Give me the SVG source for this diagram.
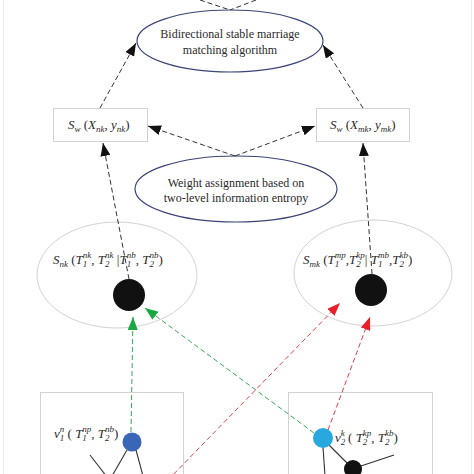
<svg xmlns="http://www.w3.org/2000/svg" width="474" height="474" viewBox="0 0 474 474">
<defs>
<style>
.t{font-family:"Liberation Serif",serif;font-size:12px;fill:#2a2a2a}
.m{font-family:"Liberation Serif",serif;font-size:13px;font-style:italic;fill:#2a2a2a}
.s{font-size:9px}
.u{font-style:normal}
.nav{fill:#fff;stroke:#3a4476;stroke-width:1.2}
.gr{fill:none;stroke:#d2d2d2;stroke-width:1}
.bx{fill:#fff;stroke:#d2d2d2;stroke-width:1}
.dk{stroke:#333;stroke-width:1;stroke-dasharray:5,3;fill:none}
.dg{stroke:#3aa65a;stroke-width:1;stroke-dasharray:5,3;fill:none}
.dr{stroke:#e0404a;stroke-width:1;stroke-dasharray:5,3;fill:none}
.ln{stroke:#333;stroke-width:1.1;fill:none}
</style>
<marker id="ak" markerUnits="userSpaceOnUse" markerWidth="14" markerHeight="10" refX="13" refY="5" orient="auto"><path d="M0,0 L13,5 L0,10 Z" fill="#111"/></marker>
<marker id="ag" markerUnits="userSpaceOnUse" markerWidth="14" markerHeight="10" refX="13" refY="5" orient="auto"><path d="M0,0 L13,5 L0,10 Z" fill="#1aa843"/></marker>
<marker id="ar" markerUnits="userSpaceOnUse" markerWidth="14" markerHeight="10" refX="13" refY="5" orient="auto"><path d="M0,0 L13,5 L0,10 Z" fill="#e8202a"/></marker>
</defs>
<rect width="474" height="474" fill="#fff"/>
<line x1="3.5" y1="0" x2="3.5" y2="474" stroke="#ececec"/>
<line x1="471.5" y1="0" x2="471.5" y2="474" stroke="#ececec"/>

<g id="algorithm">
<ellipse class="nav" cx="230" cy="41" rx="93" ry="31"/>
<text class="t" x="230" y="38" text-anchor="middle">Bidirectional stable marriage</text>
<text class="t" x="230" y="54" text-anchor="middle">matching algorithm</text>
</g>

<g id="sw-nk">
<rect class="bx" x="53.5" y="108.5" width="94" height="33"/>
<text class="m" x="68" y="129">S<tspan class="s" dy="3">w</tspan><tspan dy="-3" class="u"> (</tspan>X<tspan class="s" dy="3">nk</tspan><tspan dy="-3" class="u">, </tspan>y<tspan class="s" dy="3">nk</tspan><tspan dy="-3" class="u">)</tspan></text>
</g>

<g id="sw-mk">
<rect class="bx" x="316.5" y="108.5" width="93" height="33"/>
<text class="m" x="330" y="129">S<tspan class="s" dy="3">w</tspan><tspan dy="-3" class="u"> (</tspan>X<tspan class="s" dy="3">mk</tspan><tspan dy="-3" class="u">, </tspan>y<tspan class="s" dy="3">mk</tspan><tspan dy="-3" class="u">)</tspan></text>
</g>

<g id="weight">
<ellipse class="nav" cx="236" cy="189" rx="101" ry="33"/>
<text class="t" x="236" y="187" text-anchor="middle">Weight assignment based on</text>
<text class="t" x="236" y="202" text-anchor="middle">two-level information entropy</text>
</g>

<g id="s-nk">
<ellipse class="gr" cx="117" cy="275" rx="80" ry="53"/>
<text class="m" x="53" y="264">S<tspan class="s" dy="3">nk</tspan><tspan dy="-3" class="u"> (</tspan>T<tspan class="s" dy="3">1</tspan><tspan class="s" dx="-4.5" dy="-9">nk</tspan><tspan dy="6" class="u">, </tspan>T<tspan class="s" dy="3">2</tspan><tspan class="s" dx="-4.5" dy="-9">nk</tspan><tspan dy="6" class="u"> |</tspan>T<tspan class="s" dy="3">1</tspan><tspan class="s" dx="-4.5" dy="-9">nb</tspan><tspan dy="6" class="u">, </tspan>T<tspan class="s" dy="3">2</tspan><tspan class="s" dx="-4.5" dy="-9">nb</tspan><tspan dy="6" class="u">)</tspan></text>
<circle cx="129" cy="295" r="16" fill="#111"/>
</g>

<g id="s-mk">
<ellipse class="gr" cx="373" cy="273" rx="79" ry="53"/>
<text class="m" x="303" y="264">S<tspan class="s" dy="3">mk</tspan><tspan dy="-3" class="u"> (</tspan>T<tspan class="s" dy="3">1</tspan><tspan class="s" dx="-4.5" dy="-9">mp</tspan><tspan dy="6" class="u">,</tspan>T<tspan class="s" dy="3">2</tspan><tspan class="s" dx="-4.5" dy="-9">kp</tspan><tspan dy="6" class="u">| </tspan>T<tspan class="s" dy="3">1</tspan><tspan class="s" dx="-4.5" dy="-9">mb</tspan><tspan dy="6" class="u">,</tspan>T<tspan class="s" dy="3">2</tspan><tspan class="s" dx="-4.5" dy="-9">kb</tspan><tspan dy="6" class="u">)</tspan></text>
<circle cx="371" cy="290" r="16" fill="#111"/>
</g>

<g id="v1n">
<rect class="bx" x="40.5" y="392.5" width="143" height="100"/>
<line class="ln" x1="127" y1="450" x2="112" y2="476"/>
<line class="ln" x1="136" y1="450" x2="143" y2="476"/>
<line class="ln" x1="90" y1="455" x2="107" y2="477"/>
<circle cx="132" cy="442" r="9.5" fill="#3a66b8"/>
<text class="m" x="54" y="438">v<tspan class="s" dy="3">1</tspan><tspan class="s" dx="-4.5" dy="-9">n</tspan><tspan dy="6" class="u"> ( </tspan>T<tspan class="s" dy="3">1</tspan><tspan class="s" dx="-4.5" dy="-9">np</tspan><tspan dy="6" class="u">, </tspan>T<tspan class="s" dy="3">2</tspan><tspan class="s" dx="-4.5" dy="-9">nb</tspan><tspan dy="6" class="u">)</tspan></text>
</g>

<g id="v2k">
<rect class="bx" x="288.5" y="392.5" width="144" height="100"/>
<line class="ln" x1="323" y1="447" x2="325" y2="476"/>
<line class="ln" x1="329" y1="445" x2="347" y2="463"/>
<line class="ln" x1="361" y1="466" x2="394" y2="455"/>
<circle cx="353" cy="469" r="9" fill="#111"/>
<circle cx="323" cy="438" r="10" fill="#29a8e0"/>
<text class="m" x="335" y="442">v<tspan class="s" dy="3">2</tspan><tspan class="s" dx="-4.5" dy="-9">k</tspan><tspan dy="6" class="u"> ( </tspan>T<tspan class="s" dy="3">2</tspan><tspan class="s" dx="-4.5" dy="-9">kp</tspan><tspan dy="6" class="u">, </tspan>T<tspan class="s" dy="3">2</tspan><tspan class="s" dx="-4.5" dy="-9">kb</tspan><tspan dy="6" class="u">)</tspan></text>
</g>

<g id="connectors">
<line class="dk" x1="200" y1="0" x2="230" y2="10"/>
<line class="dk" x1="256" y1="0" x2="230" y2="10"/>
<line class="dk" x1="100" y1="108" x2="136" y2="43" marker-end="url(#ak)"/>
<line class="dk" x1="363" y1="108" x2="323" y2="45" marker-end="url(#ak)"/>
<line class="dk" x1="235" y1="156" x2="148" y2="126" marker-end="url(#ak)"/>
<line class="dk" x1="235" y1="156" x2="315" y2="126" marker-end="url(#ak)"/>
<line class="dk" x1="129" y1="279" x2="103" y2="143" marker-end="url(#ak)"/>
<line class="dk" x1="372" y1="274" x2="363" y2="143" marker-end="url(#ak)"/>
<line class="dg" x1="131" y1="432" x2="133" y2="317" marker-end="url(#ag)"/>
<line class="dg" x1="314" y1="433" x2="145" y2="308" marker-end="url(#ag)"/>
<line class="dr" x1="168" y1="480" x2="340" y2="303" marker-end="url(#ar)"/>
<line class="dr" x1="328" y1="430" x2="370" y2="317" marker-end="url(#ar)"/>
</g>
</svg>
